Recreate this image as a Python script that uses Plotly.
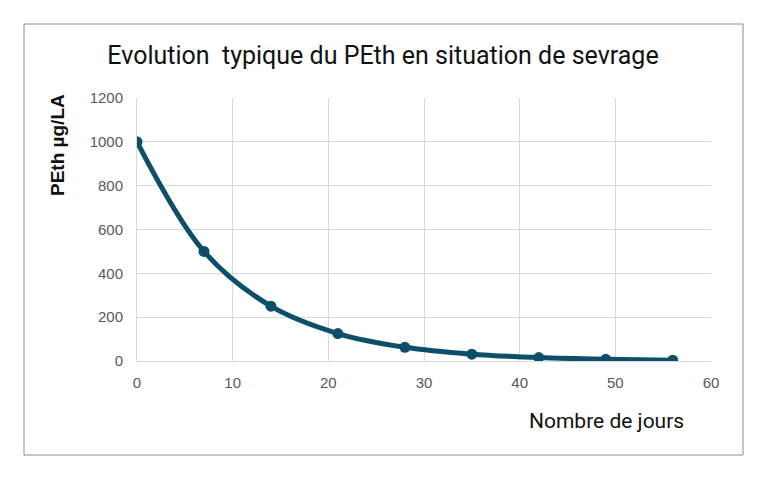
import plotly.graph_objects as go

jours = [0, 7, 14, 21, 28, 35, 42, 49, 56]
peth = [1000, 500, 250, 125, 62.5, 31.25, 15.6, 7.8, 3.9]
x_ticks = [0, 10, 20, 30, 40, 50, 60]
y_ticks = [0, 200, 400, 600, 800, 1000, 1200]

W, H = 768, 480
L, R, T, B = 137, 711, 98, 361
pw, ph = R - L, B - T

def px(x):
    return (x - L) / pw

def py(y):
    return (B - y) / ph

color = "#0d4f69"
font = "Roboto, Arial, sans-serif"
tickfont = dict(family="Liberation Sans, Arial", size=15, color="#595959")

fig = go.Figure()
fig.add_trace(go.Scatter(
    x=jours, y=peth, mode="lines+markers",
    line=dict(color=color, width=5, shape="spline", smoothing=1),
    marker=dict(color=color, size=11),
    showlegend=False, hoverinfo="skip"))

fig.update_layout(
    width=W, height=H,
    margin=dict(l=L, r=W - R, t=T, b=H - B),
    paper_bgcolor="white", plot_bgcolor="white",
    title=dict(text="Evolution  typique du PEth en situation de sevrage",
               x=383 / W, y=1 - 55 / H, xref="container", yref="container",
               xanchor="center", yanchor="middle",
               font=dict(family=font, size=25, color="#111111")),
    xaxis=dict(range=[0, 60], tickvals=x_ticks, showgrid=True, gridcolor="#d9d9d9",
               gridwidth=1, zeroline=False, showline=True, linecolor="#d9d9d9",
               tickfont=tickfont, ticks="", ticklabelstandoff=8),
    yaxis=dict(range=[0, 1200], tickvals=y_ticks, showgrid=True, gridcolor="#d9d9d9",
               gridwidth=1, zeroline=False, showline=True, linecolor="#d9d9d9",
               tickfont=tickfont, ticks="", ticklabelstandoff=10),
    shapes=[dict(type="rect", xref="paper", yref="paper",
                 x0=px(24), x1=px(743), y0=py(455), y1=py(24),
                 line=dict(color="#8c8c8c", width=1), fillcolor="rgba(0,0,0,0)",
                 layer="below")],
    annotations=[
        dict(text="<b>PEth µg/LA</b>", xref="paper", yref="paper",
             x=px(57), y=py(145), textangle=-90, showarrow=False,
             xanchor="center", yanchor="middle",
             font=dict(family="Liberation Sans, Arial", size=19, color="#111111")),
        dict(text="Nombre de jours", xref="paper", yref="paper",
             x=px(606), y=py(421), showarrow=False,
             xanchor="center", yanchor="middle",
             font=dict(family=font, size=21, color="#111111")),
    ],
)

fig.write_html("out.html")
